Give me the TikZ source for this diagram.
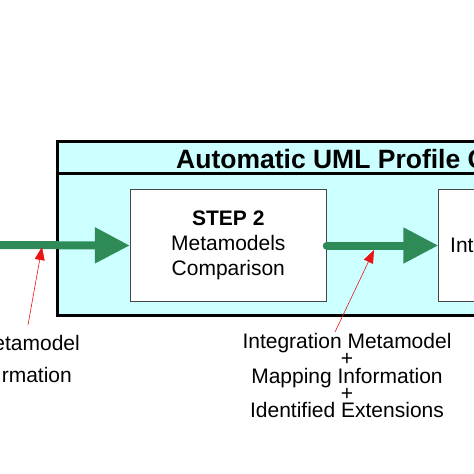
\documentclass[tikz,border=0pt]{standalone}
\usepackage{fontspec}
\setmainfont{Liberation Sans}
\usetikzlibrary{arrows.meta,positioning,calc}
\definecolor{cianclaro}{RGB}{204,255,255}
\definecolor{verde}{RGB}{46,139,87}
\definecolor{rojo}{RGB}{235,20,20}
\definecolor{borde}{RGB}{70,70,70}
\tikzset{
  marco/.style={draw=black,line width=3pt,fill=cianclaro},
  titulo/.style={font=\bfseries\fontsize{26.5}{30}\selectfont,inner sep=0pt,anchor=base west},
  caja/.style={draw=borde,fill=white,line width=0.9pt,minimum width=196pt,minimum height=112pt,
               align=center,font=\fontsize{21}{25}\selectfont,inner sep=0pt},
  flecha/.style={-{Triangle[length=35pt,width=34pt]},line width=8pt,verde},
  nota/.style={-{Triangle[length=13pt,width=10pt]},rojo,line width=0.6pt},
  texto/.style={font=\fontsize{21}{17.3}\selectfont,align=center,inner sep=0pt},
}

\begin{document}
\begin{tikzpicture}[x=1pt,y=-1pt]
  \clip (0,0) rectangle (474,474);
  % marco exterior con cabecera
  \draw[marco] (57,141.5) rectangle (530,315.5);
  \draw[line width=3pt] (57,173.5) -- (530,173.5);
  \node[titulo] (cab) at (176,168.3) {Automatic UML Profile C};
  % pasos
  \node[caja] (paso2) at (228.3,245.5) {\textbf{STEP 2}\\Metamodels\\Comparison};
  \node[caja,anchor=west] (paso3) at (438.3,245.5) {};
  \node[texto,anchor=base west] (int) at (450,252) {Int};
  % flechas verdes
  \coordinate (ent) at (-10,245);
  \draw[flecha] (ent) -- (paso2.west);
  \draw[flecha,line cap=round] (paso2.east) -- (paso3.west);
  % notas
  \node[texto,anchor=base east] (izq1) at (80,350) {etamodel};
  \node[texto,anchor=base east] (izq2) at (72,382) {rmation};
  \node[texto,anchor=north] (info) at (347,333) {Integration Metamodel\\+\\Mapping Information\\+\\Identified Extensions};
  \coordinate (o1) at (28,325);
  \coordinate (p1) at (42,247);
  \coordinate (o2) at (335,332);
  \coordinate (p2) at (374,250);
  \draw[nota] (o1) -- (p1);
  \draw[nota] (o2) -- (p2);
\end{tikzpicture}
\end{document}
